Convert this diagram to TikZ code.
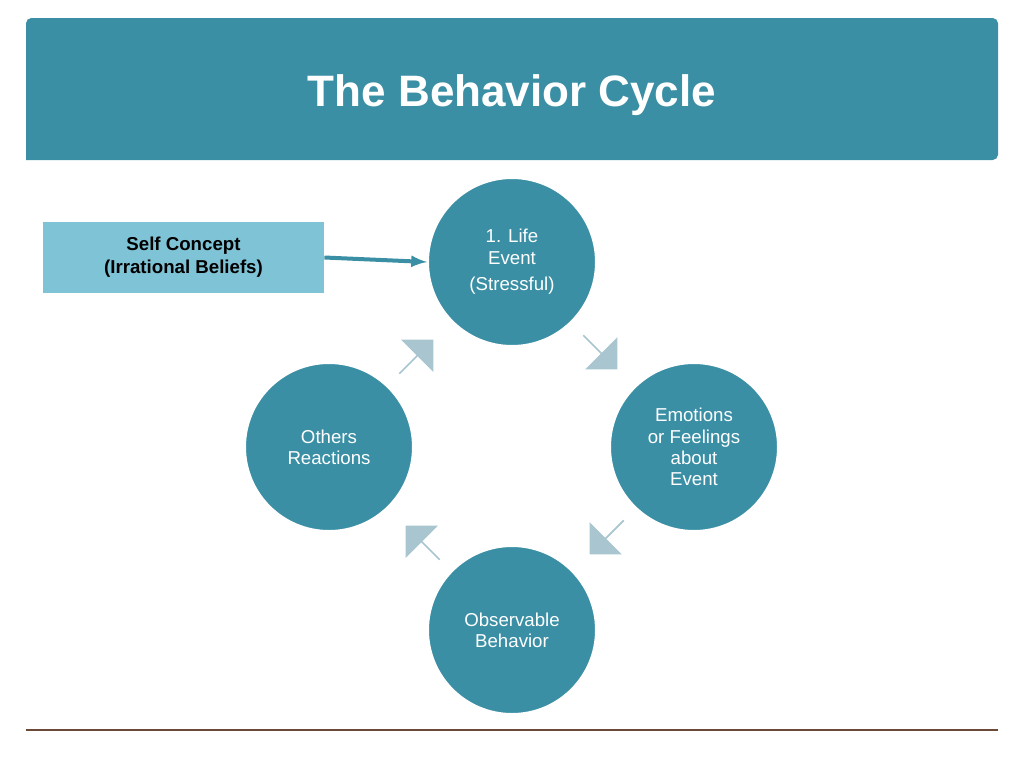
\documentclass[tikz,border=0pt]{standalone}
\usepackage{fontspec}
\setmainfont{Liberation Sans}
\usetikzlibrary{shapes.arrows,positioning}
\definecolor{teal}{HTML}{3A8FA5}
\definecolor{lightteal}{HTML}{7FC3D6}
\definecolor{pale}{HTML}{A8C5D0}
\definecolor{rule}{HTML}{6B4A3A}
\tikzset{
    stage/.style={circle, fill=teal, draw=white, line width=1.5pt, minimum size=126pt,
        text=white, align=center, font=\fontsize{14}{16}\selectfont},
    flow/.style={single arrow, fill=pale, minimum height=36pt, minimum width=34pt,
        single arrow head extend=5pt, inner sep=0pt},
}
\begin{document}
\begin{tikzpicture}[x=0.75pt,y=-0.75pt]
    \useasboundingbox (0,0) rectangle (1024,768);
    \fill[teal, rounded corners=4pt] (26,160) -- (26,18) -- (998,18) -- (998,160) [sharp corners] -- cycle;
    \node[text=white, font=\bfseries\fontsize{33}{38}\selectfont] (title) at (512,95) {The Behavior Cycle};
    % cycle stages
    \node[stage] (life) at (512,262) {1. Life\\Event\\[4pt](Stressful)};
    \node[stage] (emotion) at (694,447) {Emotions\\or Feelings\\about\\Event};
    \node[stage] (behav) at (512,630) {Observable\\Behavior};
    \node[stage] (others) at (329,447) {Others\\Reactions};
    % arrows between
    \node[flow, rotate=-45] (a1) at (600,352) {};
    \node[flow, rotate=-135] (a2) at (607,537) {};
    \node[flow, rotate=135] (a3) at (423,543) {};
    \node[flow, rotate=45] (a4) at (416,357) {};
    % self concept
    \node[fill=lightteal, minimum width=211pt, minimum height=53pt, align=center,
        font=\bfseries\fontsize{14}{17}\selectfont] (self) at (183.5,257.5) {Self Concept\\(Irrational Beliefs)};
    \draw[teal, line width=3pt, -latex] (self.east) -- (life.west);
    \draw[rule, line width=0.8pt] (26,730) -- (998,730);
\end{tikzpicture}
\end{document}
